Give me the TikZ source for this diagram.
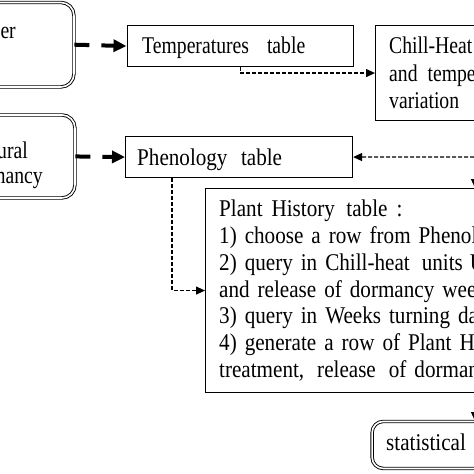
\documentclass[tikz,border=0pt]{standalone}
\usepackage{fontspec}
\setmainfont[FakeStretch=0.88]{Liberation Serif}
\newfontfamily\narrowserif[FakeStretch=0.82]{Liberation Serif}
\usetikzlibrary{arrows.meta}
\newcommand\mainsz{\fontsize{24}{27}\selectfont\spaceskip=8pt\relax}
\newcommand\narrowsz{\fontsize{24}{27}\narrowserif\spaceskip=6pt\relax}
\begin{document}
\begin{tikzpicture}[x=1pt,y=-1pt,
  box/.style={draw, line width=1.1pt, inner sep=0pt, anchor=north west},
  rbox/.style={draw, line width=0.9pt, double=white, double distance=1.6pt, rounded corners=13pt, inner sep=0pt, anchor=north west},
  txt/.style={inner sep=0pt, font=\mainsz, anchor=base west},
  ntxt/.style={inner sep=0pt, font=\narrowsz, anchor=base west},
  rtxt/.style={ntxt, anchor=base east},
  dasharrow/.style={line width=1.2pt, dash pattern=on 4pt off 2pt, -{Triangle[length=9pt,width=8pt]}},
  thickarrow/.style={line width=4pt, dash pattern=on 15pt off 12pt, -{Triangle[length=13pt,width=12pt]}}]
\useasboundingbox (0,0) rectangle (474,474);
\clip (0,0) rectangle (474,474);
\fill[white] (0,0) rectangle (474,474);
% left rounded boxes
\node[rbox, minimum width=133.5pt, minimum height=84.5pt] (src1) at (-60,2) {};
\node[rbox, minimum width=134.5pt, minimum height=83pt] (src2) at (-60,114.5) {};
\node[rtxt] (src1t) at (16,38) {er};
\node[rtxt] (src2a) at (28,158) {ural};
\node[rtxt] (src2b) at (43,183) {mancy};
% tables
\node[box, minimum width=226.5pt, minimum height=41pt] (temp) at (126.5,25) {};
\node[ntxt] (tempt) at (142,53.5) {Temperatures\hspace{18pt}table};
\node[box, minimum width=150pt, minimum height=95pt] (chill) at (375,25) {};
\node[ntxt] (chill1) at (389,53.3) {Chill-Heat};
\node[ntxt] (chill2) at (389,81) {and\hspace{10pt}tempe};
\node[ntxt] (chill3) at (389,108) {variation};
\node[box, minimum width=227pt, minimum height=41pt] (pheno) at (125,136) {};
\node[txt] (phenot) at (137,165.5) {Phenology\hspace{13.5pt}table};
\node[box, minimum width=300pt, minimum height=204pt] (plant) at (205,188) {};
\node[txt] (p0) at (219,216.7) {Plant\hspace{9pt}History\hspace{11.5pt}table\hspace{9pt}:};
\node[txt] (p1) at (219,243.5) {1) choose a row from Phenol};
\node[txt] (p2) at (219,270.3) {2) query in Chill-heat\hspace{12pt}units\hspace{7pt}U};
\node[txt] (p3) at (219,297.1) {and release of dormancy wee};
\node[txt] (p4) at (219,323.9) {3) query in Weeks turning da};
\node[txt] (p5) at (219,350.7) {4) generate a row of Plant H};
\node[txt] (p6) at (219,377.5) {treatment,\hspace{13pt}release\hspace{13pt}of dorman};
\node[rbox, rounded corners=11pt, minimum width=150pt, minimum height=47pt] (stat) at (371.7,421) {};
\node[txt] (statt) at (386,450.3) {statistical};
% connectors
\coordinate (px) at (172,0);
\coordinate (pin) at (480,157);
\coordinate (dx) at (475,0);
\coordinate (d1) at (475,165);
\draw[thickarrow] (src1.east) -- (temp.west);
\draw[thickarrow] (src2.east) -- (pheno.west);
\draw[dasharrow] (temp.south) |- (chill.west);
\draw[dasharrow] (pin) -- (pheno.east);
\draw[dasharrow] (pheno.south -| px) |- (plant.west);
\draw[dasharrow] (d1) -- (d1 |- plant.north);
\draw[dasharrow] (plant.south -| dx) -- (stat.north -| dx);
\end{tikzpicture}
\end{document}
